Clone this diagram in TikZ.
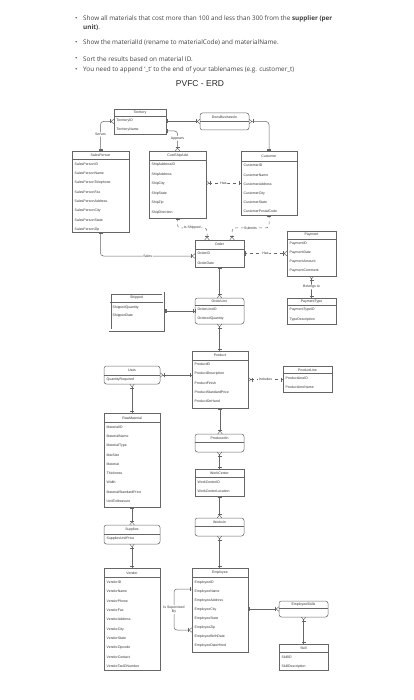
\documentclass[tikz,border=0pt]{standalone}
\usepackage{fontspec}
\setmainfont{Open Sans}
\newfontfamily\erfont{Liberation Sans}
\usetikzlibrary{calc,arrows.meta,positioning}
\colorlet{linecol}{black!60}
\colorlet{textcol}{black!80}
\newcommand{\ersize}{\erfont\fontsize{3.5pt}{4pt}\selectfont}
\newcommand{\notesize}{\fontsize{6.35pt}{7.5pt}\selectfont}
\tikzset{
    ERone/.tip={Bar[width=4pt,sep=0.8pt]Bar[width=4pt]},
    ERmany/.tip={Bar[width=4pt,sep=0.5pt]Straight Barb[reversed,length=2.5pt,width=4.5pt]},
}
% entity box: [style]{name}{pos}{width}{height}{header}{row gap}{title}{attributes}
\newcommand{\erent}[9][]{%
    \node[ent,#1,minimum width=#4pt,minimum height=#5pt,anchor=north west] (#2) at #3 {};
    \node[enttitle] at ($(#2.north)+(0,{-#6/2})$) {#8};
    \draw[linecol,line width=0.4pt] ($(#2.north west)+(0,-#6)$) -- ($(#2.north east)+(0,-#6)$);
    \foreach \a [count=\i] in {#9}
        \node[attr] at ($(#2.north west)+(2.5,{-#6-4.6-(\i-1)*#7})$) {\a};
}
\begin{document}
\begin{tikzpicture}[
        x=1pt, y=1pt,
        ent/.style={draw=linecol, line width=0.5pt, fill=white, inner sep=0pt, outer sep=0pt},
        assoc/.style={rounded corners=2.5pt},
        weak/.style={double=white, double distance=2pt},
        enttitle/.style={font=\ersize, text=textcol, inner sep=0pt},
        attr/.style={font=\ersize, text=textcol, anchor=west, inner sep=0pt},
        rel/.style={draw=linecol, line width=0.5pt, rounded corners=3pt},
        lbl/.style={font=\ersize, text=textcol, fill=white, inner sep=0.8pt},
        note/.style={font=\notesize, text=black!75, anchor=west, inner sep=0pt},
    ]
    \useasboundingbox (0,0) rectangle (414,-700);

    % task notes
    \foreach \y in {18.5,43,59,70}
        \node[note] at (75,-\y) {\textbullet};
    \node[note] (n1) at (83,-18.5) {Show all materials that cost more than 100 and less than 300 from the \textbf{supplier (per}};
    \node[note] (n1b) at (83,-28) {\textbf{unit)}.};
    \node[note] (n2) at (83,-43) {Show the materialId (rename to materialCode) and materialName.};
    \node[note] (n3) at (83,-59) {Sort the results based on material ID.};
    \node[note] (n4) at (83,-70) {You need to append ‘\_t’ to the end of your tablenames (e.g. customer\_t)};
    \node[font=\erfont\fontsize{8.5pt}{10pt}\selectfont, text=black!85] (title) at (200,-84) {PVFC - ERD};

    % entities
    \erent{territory}{(114,-109)}{52}{25}{7}{9}{Territory}{TerritoryID,TerritoryName}
    \erent[assoc]{doesbiz}{(200,-113)}{49}{17}{8}{9}{DoesBusinessIn}{}
    \erent{salesperson}{(72,-151)}{57}{81}{8.5}{9.3}{SalesPerson}{SalesPersonID,SalesPersonName,SalesPersonTelephone,SalesPersonFax,SalesPersonAddress,SalesPersonCity,SalesPersonState,SalesPersonZip}
    \erent{custship}{(149,-151)}{57}{67}{9}{9.6}{CustShipAdd}{ShipAddressID,ShipAddress,ShipCity,ShipState,ShipZip,ShipDirection}
    \erent{customer}{(241,-151)}{56}{64}{10}{9.2}{Customer}{CustomerID,CustomerName,CustomerAddress,CustomerCity,CustomerState,CustomerPostalCode}
    \erent{order}{(195,-240)}{49}{27}{9}{9.2}{Order}{OrderID,OrderDate}
    \erent{payment}{(287,-231)}{49}{45}{8}{9}{Payment}{PaymentID,PaymentDate,PaymentAmount,PaymentComment}
    \erent{paymenttype}{(287,-298)}{49}{26}{7.5}{9}{PaymentType}{PaymentTypeID,TypeDescription}
    \erent[assoc]{orderline}{(195,-298)}{49}{26}{7}{9}{OrderLine}{OrderLineID,OrderedQuantity}
    \erent[weak]{shipped}{(110,-293)}{53}{37}{9.5}{8.5}{Shipped}{ShippedQuantity,ShippedDate}
    \erent{product}{(192,-351)}{56}{57}{9}{9.2}{Product}{ProductID,ProductDescription,ProductFinish,ProductStandardPrice,ProductOnHand}
    \erent{productline}{(283,-366)}{49}{26}{7.5}{9.5}{ProductLine}{ProductLineID,ProductLineName}
    \erent[assoc]{uses}{(104,-366)}{56}{18}{9}{9}{Uses}{QuantityRequired}
    \erent{rawmaterial}{(104,-413)}{56}{94}{9.5}{9.25}{RawMaterial}{MaterialID,MaterialName,MaterialType,MatSize,Material,Thickness,Width,MaterialStandardPrice,UnitToMeasure}
    \erent[assoc]{producedin}{(195,-434)}{49}{18}{8}{9}{ProducedIn}{}
    \erent{workcenter}{(195,-469)}{49}{27}{8.5}{9}{WorkCenter}{WorkCenterID,WorkCenterLocation}
    \erent[assoc]{worksin}{(195,-518)}{49}{18}{8}{9}{WorksIn}{}
    \erent[assoc]{supplies}{(104,-525)}{56}{19}{9}{9}{Supplies}{SuppliesUnitPrice}
    \erent{vendor}{(104,-568)}{56}{102}{9.5}{9.4}{Vendor}{VendorID,VendorName,VendorPhone,VendorFax,VendorAddress,VendorCity,VendorState,VendorZipcode,VendorContact,VendorTaxIDNumber}
    \erent{employee}{(192,-568)}{56}{84}{9.5}{9.1}{Employee}{EmployeeID,EmployeeName,EmployeeAddress,EmployeeCity,EmployeeState,EmployeeZip,EmployeeBirthDate,EmployeeDateHired}
    \erent[assoc]{empskills}{(279,-601)}{49}{16}{7.5}{9}{EmployeeSkills}{}
    \erent{skill}{(279,-644)}{49}{26}{8.5}{9}{Skill}{SkillID,SkillDescription}

    % relationships
    \draw[rel,{ERone}-{ERmany}] (territory.east) -- (doesbiz.west);
    \draw[rel,{ERmany}-{ERone}] (doesbiz.east) -| (customer.north);
    \draw[rel,{ERmany}-{ERone}] (territory.west) -| node[lbl,pos=0.72]{Serves} (salesperson.north);
    \draw[rel,{ERone}-{ERmany}] ($(territory.south east)+(0,3)$) -| node[lbl,pos=0.68]{Appears} (custship.north);
    \draw[rel,dashed,{ERmany}-{ERone}] (custship.east |- customer.west) -- node[lbl]{Has} (customer.west);
    \draw[rel,dashed,{ERone}-{ERmany}] (custship.south) -- ++(0,-10) -| node[lbl,pos=0.25]{Is Shipped} ($(order.north west)+(12,0)$);
    \draw[rel,dashed,{ERone}-{ERmany}] (customer.south) -- ++(0,-13) -| node[lbl,pos=0.25]{Submits} ($(order.north east)+(-12,0)$);
    \draw[rel,{ERone}-{ERmany}] (salesperson.south) |- node[lbl,pos=0.75]{Sales} ($(order.south west)+(0,11)$);
    \draw[rel,dashed,{ERone}-{ERmany}] (order.east |- payment.west) -- node[lbl]{Has} (payment.west);
    \draw[rel,{ERmany}-{ERone}] (payment.south) -- node[lbl]{Belongs to} (paymenttype.north);
    \draw[rel,{ERone}-{ERmany}] (order.south) -- (orderline.north);
    \draw[rel,{ERone}-{ERone}] (orderline.west) -- ($(orderline.west -| shipped.east)+(1.5,0)$);
    \draw[rel,{ERmany}-{ERone}] (orderline.south) -- (orderline.south |- product.north);
    \draw[rel,dashed,{ERmany}-{ERone}] (product.east) -- node[lbl]{Includes} (product.east -| productline.west);
    \draw[rel,{ERmany}-{ERone}] (uses.east) -- (uses.east -| product.west);
    \draw[rel,{ERmany}-{ERone}] (uses.south) -- (rawmaterial.north);
    \draw[rel,{ERone}-{ERmany}] (product.south) -- (product.south |- producedin.north);
    \draw[rel,{ERmany}-{ERone}] (producedin.south) -- (workcenter.north);
    \draw[rel,{ERone}-{ERmany}] (workcenter.south) -- (worksin.north);
    \draw[rel,{ERmany}-{ERone}] (worksin.south) -- (worksin.south |- employee.north);
    \draw[rel,{ERone}-{ERmany}] (rawmaterial.south) -- (supplies.north);
    \draw[rel,{ERmany}-{ERone}] (supplies.south) -- (vendor.north);
    \draw[rel,{ERone}-{ERmany}] (employee.east |- empskills.west) -- (empskills.west);
    \draw[rel,{ERmany}-{ERone}] (empskills.south) -- (skill.north);
    \draw[rel,{ERone}-{ERmany}] ($(employee.north west)+(0,-21)$) -- ++(-18,0) |- node[lbl,pos=0.25,align=center]{Is Supervised\\By} ($(employee.north west)+(0,-62)$);
\end{tikzpicture}
\end{document}
